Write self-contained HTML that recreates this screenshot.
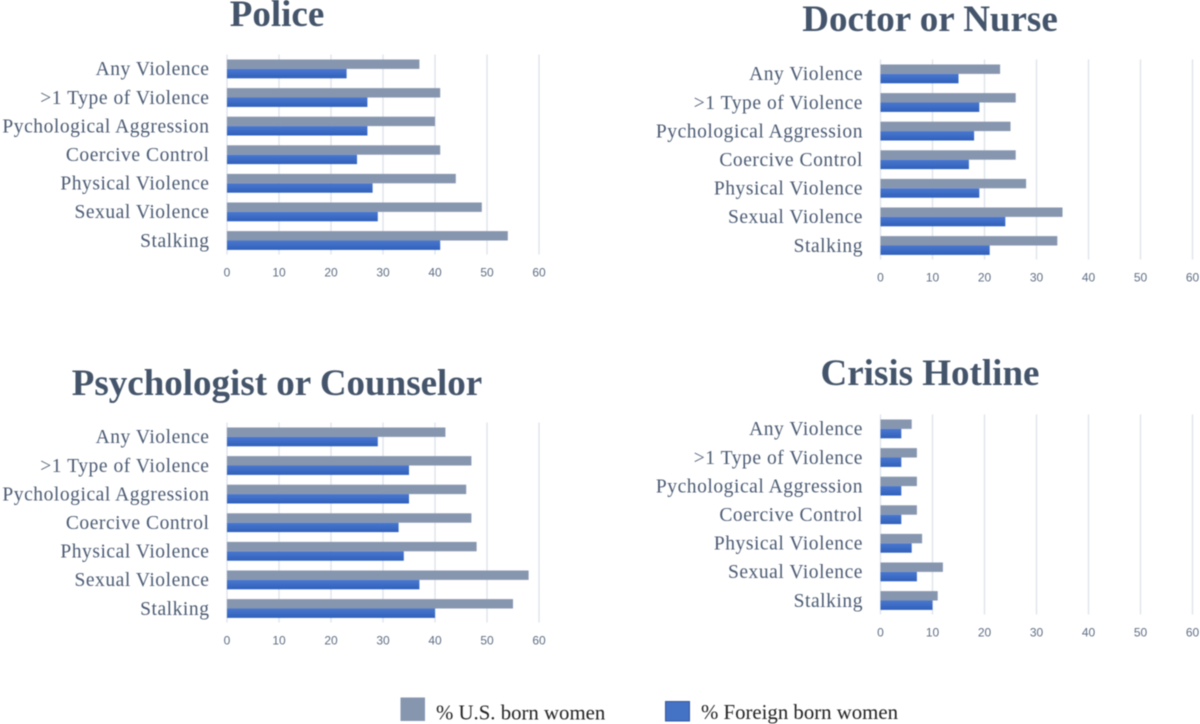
<!DOCTYPE html>
<html lang="en">
<head>
<meta charset="utf-8">
<title>Help-seeking by violence type</title>
<style>
html,body{margin:0;padding:0;background:#fff;}
svg{display:block;}
.title{font-family:"Liberation Serif",serif;font-weight:700;font-size:37px;fill:#44546a;text-anchor:middle;}
.cat{font-family:"Liberation Serif",serif;font-size:19.5px;letter-spacing:0.55px;fill:#4a5a72;text-anchor:end;}
.tick{font-family:"Liberation Sans",sans-serif;font-size:12px;fill:#5f6d84;text-anchor:middle;}
.leg{font-family:"Liberation Serif",serif;font-size:20.8px;fill:#222;}
</style>
</head>
<body>
<svg id="chart" width="1200" height="724" viewBox="0 0 1200 724" xmlns="http://www.w3.org/2000/svg">
<g id="root" style="filter:blur(0.4px)"></g>
</svg>
<script>
const categories = ["Any Violence", ">1 Type of Violence", "Pychological Aggression", "Coercive Control", "Physical Violence", "Sexual Violence", "Stalking"];
const axisTicks = [0, 10, 20, 30, 40, 50, 60];
const policeUS = [37, 41, 40, 41, 44, 49, 54];
const policeForeign = [23, 27, 27, 25, 28, 29, 41];
const doctorUS = [23, 26, 25, 26, 28, 35, 34];
const doctorForeign = [15, 19, 18, 17, 19, 24, 21];
const psychUS = [42, 47, 46, 47, 48, 58, 55];
const psychForeign = [29, 35, 35, 33, 34, 37, 40];
const hotlineUS = [6, 7, 7, 7, 8, 12, 11];
const hotlineForeign = [4, 4, 4, 4, 6, 7, 10];

const NS = "http://www.w3.org/2000/svg";
const root = document.getElementById("root");
function mk(tag, attrs, parent, text) {
  const el = document.createElementNS(NS, tag);
  for (const k in attrs) el.setAttribute(k, attrs[k]);
  if (text !== undefined) el.textContent = text;
  parent.appendChild(el);
  return el;
}
const defs = mk("defs", {}, root);
const grad = mk("linearGradient", {id: "blueGrad", x1: 0, y1: 0, x2: 0, y2: 1}, defs);
mk("stop", {offset: "0", "stop-color": "#4a78cf"}, grad);
mk("stop", {offset: "1", "stop-color": "#2f60bb"}, grad);

function drawPanel(slug, title, titleX, titleY, x0, rowTop, us, foreign) {
  const unit = 5.2, step = 28.6, barH = 9.4;
  const x = v => x0 + v * unit;
  const rowY = i => rowTop + i * step;
  const g = mk("g", {}, root);
  
  

  const t = mk("text", {class: "title", x: titleX, y: titleY}, g, title);
  
  

  axisTicks.forEach(v => {
    const line = mk("line", {x1: x(v), x2: x(v), y1: rowTop - 5, y2: rowTop + 195, stroke: "#dfe4ec", "stroke-width": 1.4}, g);
    
    
    const label = mk("text", {class: "tick", x: x(v), y: rowTop + 217}, g, String(v));
    
    
  });

  categories.forEach((c, i) => {
    const label = mk("text", {class: "cat", x: x0 - 17.5, y: rowY(i) + 15.7}, g, c);
    
    
    const a = mk("rect", {x: x(0), y: rowY(i), width: us[i] * unit, height: barH, fill: "#8796af"}, g);
    
    
    const b = mk("rect", {x: x(0), y: rowY(i) + barH, width: foreign[i] * unit, height: barH, fill: "url(#blueGrad)"}, g);
    
    
  });
}

drawPanel("police", "Police", 277, 26, 227, 59.5, policeUS, policeForeign);
drawPanel("doctor", "Doctor or Nurse", 930, 31, 880.5, 64.5, doctorUS, doctorForeign);
drawPanel("psychologist", "Psychologist or Counselor", 277, 395, 227, 427.5, psychUS, psychForeign);
drawPanel("hotline", "Crisis Hotline", 930, 385, 880.5, 419.5, hotlineUS, hotlineForeign);

const legend = mk("g", {}, root);


const sw1 = mk("rect", {x: 400.5, y: 697.5, width: 24.5, height: 23.5, fill: "#8796af"}, legend);


const lt1 = mk("text", {class: "leg", x: 436, y: 719.5}, legend, "% U.S. born women");


const sw2 = mk("rect", {x: 665.5, y: 701.5, width: 24, height: 19.5, fill: "#4472c4", stroke: "#34589c", "stroke-width": 1}, legend);


const lt2 = mk("text", {class: "leg", x: 701, y: 719}, legend, "% Foreign born women");


</script>
</body>
</html>
